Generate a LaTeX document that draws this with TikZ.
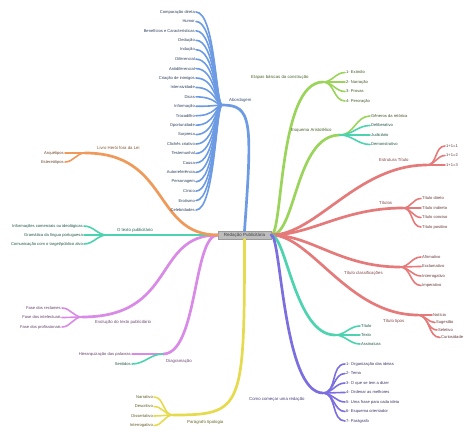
\documentclass[tikz,border=0pt]{standalone}
\usepackage{fontspec}
\setmainfont{Liberation Sans}
\usetikzlibrary{positioning}
\definecolor{MapBlue}{HTML}{6C9BE3}
\definecolor{MapGreen}{HTML}{9BD45A}
\definecolor{MapTeal}{HTML}{4ED3B1}
\definecolor{MapRed}{HTML}{E57A7A}
\definecolor{MapPurple}{HTML}{7B6FE0}
\definecolor{MapYellow}{HTML}{E6DA4E}
\definecolor{MapPink}{HTML}{D98AE6}
\definecolor{MapOrange}{HTML}{EF9A5A}
\definecolor{RootGray}{HTML}{BDBDBD}
\definecolor{RootEdge}{HTML}{9A9A9A}

\begin{document}
\begin{tikzpicture}[
  x=1pt, y=-1pt,
  rootbox/.style={
    draw=RootEdge,
    fill=RootGray,
    minimum width=53pt,
    minimum height=8pt,
    inner sep=1pt,
    text=black!75,
    font=\fontsize{4.5}{5}\selectfont
  },
  stem/.style={
    line width=2.7pt,
    line cap=round
  },
  twig/.style={
    line width=1.6pt,
    line cap=round
  },
  lbl/.style={
    inner sep=0pt,
    anchor=base west,
    font=\fontsize{4.3}{5}\selectfont
  },
  leafR/.style={
    inner sep=1pt,
    anchor=west,
    font=\fontsize{4.1}{5}\selectfont
  },
  leafL/.style={
    inner sep=1pt,
    anchor=east,
    font=\fontsize{4.1}{5}\selectfont
  }
]
\useasboundingbox (0,0) rectangle (474,438);

% Center
\node[rootbox] (root) at (244.5,235) {Redação Publicitária};

% Junctions
\coordinate (abJ) at (222,105);
\coordinate (etJ) at (323,82);
\coordinate (esJ) at (340,135);
\coordinate (stJ) at (427,165);
\coordinate (tiJ) at (403,208);
\coordinate (clJ) at (400,267);
\coordinate (tpJ) at (418,315);
\coordinate (ttJ) at (335,335);
\coordinate (coJ) at (323,393);
\coordinate (ptJ) at (173,415);
\coordinate (dgJ) at (163,354);
\coordinate (evJ) at (82,317);
\coordinate (otJ) at (107,235);
\coordinate (lvJ) at (85,153);

% Main branches
\draw[stem, MapBlue] (root.north) .. controls +(8,-110) and +(30,0) .. (abJ);
\draw[stem, MapGreen] (root.east) .. controls +(12,0) and +(-45,0) .. (etJ);
\draw[stem, MapGreen] (root.east) .. controls +(25,0) and +(-45,0) .. (esJ);
\draw[stem, MapRed] (root.east) .. controls +(45,0) and +(-70,0) .. (stJ);
\draw[stem, MapRed] (root.east) .. controls +(40,0) and +(-60,0) .. (tiJ);
\draw[stem, MapRed] (root.east) .. controls +(40,0) and +(-60,0) .. (clJ);
\draw[stem, MapRed] (root.east) .. controls +(40,0) and +(-70,0) .. (tpJ);
\draw[stem, MapTeal] (root.east) .. controls +(15,0) and +(-40,0) .. (ttJ);
\draw[stem, MapPurple] (root.east) .. controls +(10,0) and +(-40,0) .. (coJ);
\draw[stem, MapYellow] (root.south) .. controls +(0,170) and +(70,0) .. (ptJ);
\draw[stem, MapPink] (root.west) .. controls +(-25,0) and +(35,0) .. (dgJ);
\draw[stem, MapPink] (root.west) .. controls +(-65,0) and +(95,0) .. (evJ);
\draw[stem, MapTeal] (root.west) -- (otJ);
\draw[stem, MapOrange] (root.west) .. controls +(-65,0) and +(85,0) .. (lvJ);

% Branch labels
\node[lbl, text=MapBlue!50!black] (ab) at (229,102) {Abordagem};
\node[lbl, text=MapGreen!45!black] (et) at (251,79) {Etapas básicas da construção};
\node[lbl, text=MapGreen!45!black] (es) at (291,132) {Esquema Aristotélico};
\node[lbl, text=MapRed!55!black] (st) at (379,162) {Estrutura Título};
\node[lbl, text=MapRed!55!black] (ti) at (379,205) {Títulos};
\node[lbl, text=MapRed!55!black] (cl) at (344,274.5) {Título classificações};
\node[lbl, text=MapRed!55!black] (tp) at (383,322.5) {Título tipos};
\node[lbl, text=MapPurple!55!black] (co) at (249,400) {Como começar uma redação};
\node[lbl, text=MapYellow!45!black] (pt) at (187,423.5) {Parágrafo tipologia};
\node[lbl, text=MapPink!50!black] (dg) at (166,362.5) {Diagramação};
\node[lbl, text=MapPink!50!black] (ev) at (95,323.5) {Evolução do texto publicitário};
\node[lbl, text=MapTeal!45!black] (ot) at (117,232) {O texto publicitário};
\node[lbl, text=MapOrange!55!black] (lv) at (97,150) {Livro Herói fora da Lei};

% Abordagem leaves
\foreach \txt [count=\i from 0] in {Comparação direta, Humor,
  Benefícios e Características, Dedução, Indução, Diferencial,
  Antidiferencial, Criação de inimigos, Intensividade, Dicas,
  Informação, Trocadilho, Oportunidade, Surpresa, Clichês criativo,
  Testemunhal, Causa, Autorreferência, Personagem, Cínico, Erotismo,
  Celebridades} {
  \node[leafL, text=MapBlue!40!black] (ab\i) at (196,12+9.43*\i) {\txt};
  \draw[twig, MapBlue] (abJ) .. controls +(-6,0) and +(19,0) .. (ab\i.east);
}

% Etapas leaves
\foreach \txt [count=\i from 0] in {1- Exórdio, 2- Narração, 3- Provas, 4- Peroração} {
  \node[leafR, text=MapGreen!40!black] (et\i) at (345,72.5+9.5*\i) {\txt};
  \draw[twig, MapGreen] (etJ) to[out=0,in=180] (et\i.west);
}

% Esquema leaves
\node[leafR, text=MapGreen!40!black] (es0) at (370,116) {Gêneros da retórica};
\draw[twig, MapGreen] (esJ) to[out=0,in=180] (es0.west);
\foreach \txt [count=\i from 1] in {Deliberativo, Judiciário, Demonstrativo} {
  \node[leafR, text=MapTeal!40!black] (es\i) at (370,116+9.5*\i) {\txt};
  \draw[twig, MapTeal] (esJ) to[out=0,in=180] (es\i.west);
}

% Estrutura Titulo leaves
\foreach \txt [count=\i from 0] in {1+1=1, 1+1=2, 1+1=3} {
  \node[leafR, text=MapRed!45!black] (st\i) at (445,146+9.5*\i) {\txt};
  \draw[twig, MapRed] (stJ) to[out=0,in=180] (st\i.west);
}

% Titulos leaves
\foreach \txt [count=\i from 0] in {Título direto, Título indireto, Título conciso, Título positivo} {
  \node[leafR, text=MapRed!45!black] (ti\i) at (421,198.5+9.5*\i) {\txt};
  \draw[twig, MapRed] (tiJ) to[out=0,in=180] (ti\i.west);
}

% Classificacoes leaves
\foreach \txt [count=\i from 0] in {Afirmativo, Exclamativo, Interrogativo, Imperativo} {
  \node[leafR, text=MapRed!45!black] (cl\i) at (421,257+9.5*\i) {\txt};
  \draw[twig, MapRed] (clJ) to[out=0,in=180] (cl\i.west);
}

% Tipos leaves
\foreach \txt/\xx [count=\i from 0] in {Notícia/432, Sugestão/435, Seletivo/437, Curiosidade/440} {
  \node[leafR, text=MapRed!45!black] (tp\i) at (\xx,315+7.5*\i) {\txt};
  \draw[twig, MapRed] (tpJ) to[out=0,in=180] (tp\i.west);
}

% Titulo / Texto / Assinatura
\foreach \txt [count=\i from 0] in {Título, Texto, Assinatura} {
  \node[leafR, text=MapTeal!40!black] (tt\i) at (360,326+9*\i) {\txt};
  \draw[twig, MapTeal] (ttJ) to[out=0,in=180] (tt\i.west);
}

% Como comecar leaves
\foreach \txt [count=\i from 0] in {1- Organização das ideias, 2- Tema,
  3- O que se tem a dizer, 4- Ordenar as melhores,
  5- Uma frase para cada ideia, 6- Esquema orientador, 7- Parágrafo} {
  \node[leafR, text=MapPurple!45!black] (co\i) at (345,364+9.5*\i) {\txt};
  \draw[twig, MapPurple] (coJ) to[out=0,in=180] (co\i.west);
}

% Paragrafo tipologia leaves
\foreach \txt [count=\i from 0] in {Narrativo, Descritivo, Dissertativo, Interrogativo} {
  \node[leafL, text=MapYellow!40!black] (pt\i) at (154,397+9.5*\i) {\txt};
  \draw[twig, MapYellow] (ptJ) to[out=180,in=0] (pt\i.east);
}

% Diagramacao leaves
\node[leafL, text=MapPink!45!black] (dg0) at (132,354) {Hierarquização das palavras};
\node[leafL, text=MapTeal!40!black] (dg1) at (132,364) {Sentidos};
\draw[twig, MapPink] (dgJ) to[out=180,in=0] (dg0.east);
\draw[twig, MapTeal] (dgJ) to[out=180,in=0] (dg1.east);

% Evolucao leaves
\foreach \txt [count=\i from 0] in {Fase dos reclames, Fase dos intelectuais, Fase dos profissionais} {
  \node[leafL, text=MapPink!45!black] (ev\i) at (62,308+9.5*\i) {\txt};
  \draw[twig, MapPink] (evJ) to[out=180,in=0] (ev\i.east);
}

% O texto publicitario leaves
\foreach \txt [count=\i from 0] in {Informações comerciais ou ideológicas,
  Gramática da língua portuguesa, Comunicação com o target/público alvo} {
  \node[leafL, text=MapTeal!40!black] (ot\i) at (84,226+9*\i) {\txt};
  \draw[twig, MapTeal] (otJ) to[out=180,in=0] (ot\i.east);
}

% Livro leaves
\foreach \txt [count=\i from 0] in {Arquétipos, Estereótipos} {
  \node[leafL, text=MapOrange!45!black] (lv\i) at (65,153+9*\i) {\txt};
  \draw[twig, MapOrange] (lvJ) to[out=180,in=0] (lv\i.east);
}

\end{tikzpicture}
\end{document}
